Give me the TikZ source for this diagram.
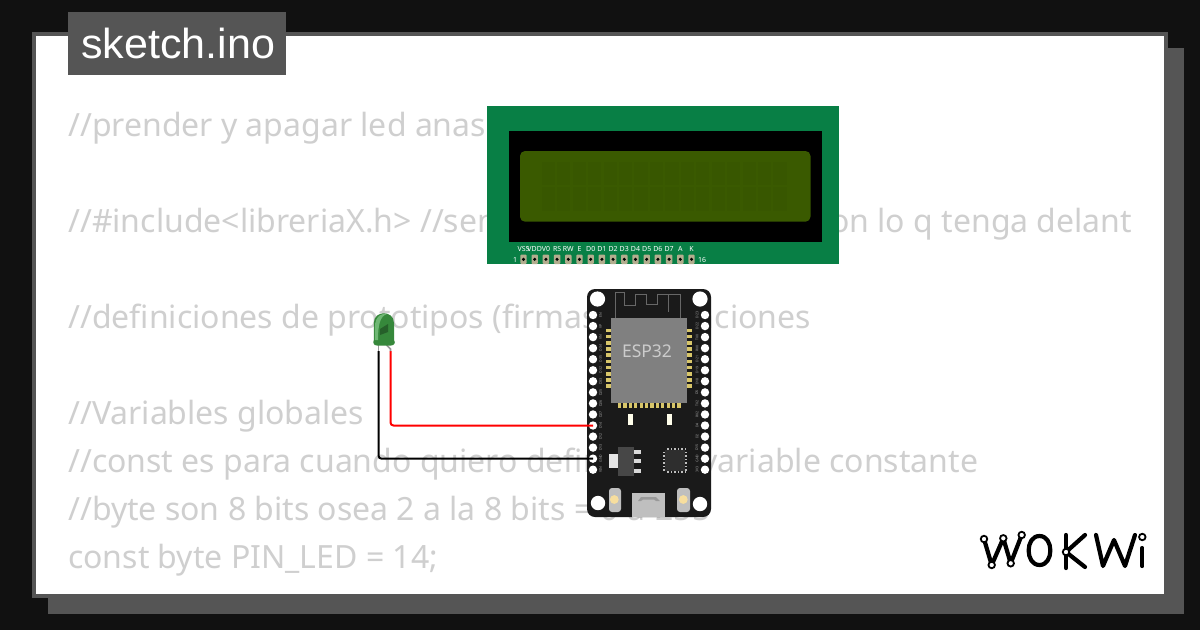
\documentclass[tikz,border=0pt]{standalone}
\usepackage{fontspec}
\setmainfont{Noto Sans}
\newfontfamily\tabfont[FakeStretch=1.025]{Liberation Sans}
\definecolor{bgdark}{HTML}{111111}
\definecolor{cardgray}{HTML}{555555}
\definecolor{codegray}{HTML}{CFCFCF}
\definecolor{lcdgreen}{HTML}{087F45}
\definecolor{lcdscreen}{HTML}{3A5A00}
\definecolor{lcdcell}{HTML}{385700}
\definecolor{pintan}{HTML}{B3AD8E}
\definecolor{boardblack}{HTML}{1A1A1A}
\definecolor{modgray}{HTML}{808080}
\definecolor{goldpin}{HTML}{D8C66A}
\definecolor{ledgreen}{HTML}{3FA046}
\definecolor{btncream}{HTML}{F7DE9E}
\tikzset{
  codeline/.style={anchor=base west,inner sep=0pt,text=codegray,font=\fontsize{32}{32}\selectfont},
  lcdlabel/.style={anchor=base,inner sep=0pt,text=white,font=\fontsize{7}{8}\selectfont},
  esplabel/.style={inner sep=0pt,text=white!65!black,rotate=90,font=\fontsize{3.5}{4}\selectfont},
  pad/.style={circle,fill=white,inner sep=0pt,minimum size=8.4pt},
  wire/.style={line width=2pt,rounded corners=3pt},
  logo/.style={line width=4.2pt,line cap=round,line join=round,black},
  logonode/.style={circle,draw=black,fill=white,line width=1.8pt,inner sep=0pt,minimum size=6.5pt}
}
\begin{document}
\begin{tikzpicture}[x=1pt,y=-1pt]
\useasboundingbox (0,0) rectangle (1200,630);
\fill[bgdark] (0,0) rectangle (1200,630);
\fill[cardgray] (48,48) rectangle (1184,614);
\fill[cardgray] (32,32) rectangle (1168,598);
\fill[white] (36,36) rectangle (1164,594);
\begin{scope}
\clip (68,90) rectangle (1132,590);
\node[codeline] (c1) at (68,136) {//prender y apagar led anas};
\node[codeline] (c2) at (68,232) {//\#include<libreriaX.h> //sentencia que remplaza\kern5pt{} con lo q tenga delante};
\node[codeline] (c3) at (68,328) {//definiciones de prototipos (firmas de\kern12pt{} funciones};
\node[codeline] (c4) at (68,424) {//Variables globales};
\node[codeline] (c5) at (68,472) {//const es para cuando quiero definir una\kern3pt{} variable constante};
\node[codeline] (c6) at (68,520) {//byte son 8 bits osea 2 a la 8 bits = 0 a\kern2pt{} 255};
\node[codeline] (c7) at (68,568) {const byte PIN\_LED = 14;};
\end{scope}
% tab
\fill[cardgray] (68,12) rectangle (286,75);
\node[anchor=base west,inner sep=0pt,text=white,font=\tabfont\fontsize{42}{42}\selectfont] (tab) at (81,58) {sketch.ino};
% LCD
\fill[lcdgreen] (487,106) rectangle (838.5,264);
\fill[black] (509,131) rectangle (822,241.7);
\fill[lcdscreen,rounded corners=5pt] (520,151) rectangle (810.5,221.7);
\foreach \c in {0,...,15}{
  \pgfmathsetmacro{\xx}{541.7+15.45*\c}
  \fill[lcdcell] (\xx,161.7) rectangle ++(13.2,23.2);
  \fill[lcdcell] (\xx,187) rectangle ++(13.2,23.6);
}
\foreach \lab [count=\i from 0] in {VSS,VDD,V0,RS,RW,E,D0,D1,D2,D3,D4,D5,D6,D7,A,K}{
  \pgfmathsetmacro{\xx}{523.5+11.2*\i}
  \fill[pintan,rounded corners=1pt] (\xx-3.2,254.5) rectangle (\xx+3.2,264);
  \fill[black] (\xx,259.3) circle (1.7);
  \node[lcdlabel] (lcd\i) at (\xx,251.7) {\lab};
}
\node[lcdlabel] (lcdone) at (515,262) {1};
\node[lcdlabel] (lcdsixteen) at (702,262) {16};
% ESP32 board
\fill[boardblack,rounded corners=8pt] (587,289) rectangle (711,517);
% antenna
\draw[modgray!80!black,line width=0.7pt] (615.5,318) -- (615.5,292.5) -- (624.5,292.5) -- (624.5,305) -- (635,305) -- (635,294) -- (646,294) -- (646,304) -- (657,304) -- (657,294) -- (668,294) -- (668,312) (668,294) -- (680,294) -- (680,318);
% gold pins
\foreach \k in {0,...,9}{
  \pgfmathsetmacro{\yy}{328.5+6.2*\k}
  \fill[goldpin] (606,\yy) rectangle (611,\yy+3.6);
  \fill[goldpin] (687,\yy) rectangle (691.5,\yy+3.6);
}
\foreach \k in {0,...,11}{
  \pgfmathsetmacro{\xx}{618+5.4*\k}
  \fill[goldpin] (\xx,403) rectangle (\xx+3.2,407.5);
}
\fill[modgray] (611,318) rectangle (687,403);
\node[inner sep=0pt,text=white!80!black,font=\fontsize{17.5}{17}\selectfont] (esp) at (647,351) {ESP32};
% big holes
\fill[white] (597.5,299) circle (7.6);
\fill[white] (700,299) circle (7.6);
\fill[white] (598,503) circle (7.2);
\fill[white] (700,504) circle (7.2);
% pads and labels
\foreach \lab [count=\k from 0] in {EN,VP,VN,D34,D35,D32,D33,D25,D26,D27,D14,D12,D13,GND,VIN}{
  \pgfmathsetmacro{\yy}{315+11.05*\k}
  \node[pad] (padL\k) at (593,\yy) {};
  \node[esplabel] (labL\k) at (600.5,\yy) {\lab};
}
\foreach \lab [count=\k from 0] in {D23,D22,TX0,RX0,D21,D19,D18,D5,TX2,RX2,D4,D2,D15,GND,3V3}{
  \pgfmathsetmacro{\yy}{315+11.05*\k}
  \node[pad] (padR\k) at (705,\yy) {};
  \node[esplabel] (labR\k) at (697,\yy) {\lab};
}
% LEDs on board
\fill[white!92!yellow] (627.7,414) rectangle (632.7,425);
\fill[white!92!yellow] (667,414) rectangle (672,425);
% regulator
\fill[white!90!black] (609,454) rectangle (618,468);
\fill[white!85!black] (634,449.5) rectangle (641,453.5);
\fill[white!85!black] (634,459) rectangle (641,463);
\fill[white!85!black] (634,469) rectangle (641,473);
\fill[black!72] (617.7,447) rectangle (634,476);
% QFN chip
\foreach \k in {0,...,5}{
  \pgfmathsetmacro{\pp}{3.5*\k}
  \fill[white!75!black] (667+\pp,448) rectangle ++(1.8,1.8);
  \fill[white!75!black] (667+\pp,471.3) rectangle ++(1.8,1.8);
  \fill[white!75!black] (663,451.5+\pp) rectangle ++(1.8,1.8);
  \fill[white!75!black] (685.2,451.5+\pp) rectangle ++(1.8,1.8);
}
\fill[black!82] (665,450) rectangle (685,471);
% buttons
\fill[white!75!black,rounded corners=3pt] (609,488) rectangle (621,512);
\fill[white!75!black,rounded corners=3pt] (677,488) rectangle (690,512);
\fill[btncream] (614.3,499.5) circle (4.4);
\fill[btncream] (683.3,499.5) circle (4.4);
% USB
\fill[white!75!black] (632,493) rectangle (665,517);
\fill[white!60!black] (638,501) -- (641,497) -- (656,497) -- (660,501) -- (656,501) -- (654,499.5) -- (643,499.5) -- (641,501) -- cycle;
% LED
\node[inner sep=0pt,minimum size=0pt] (led) at (384,330) {};
\coordinate (ledK) at (378.5,351);
\coordinate (ledA) at (390.5,351);
\draw[wire,black] (ledK) |- (padL13.center);
\draw[wire,red] (ledA) |- (padL10.center);
\draw[black!40,line width=1.6pt] (378.5,351) -- (378.5,345);
\draw[black!40,line width=1.6pt] (390.5,351) -- (390.5,349) -- (386.5,345);
\fill[ledgreen!85!black] (373.8,340) -- (373.8,323) .. controls (373.8,310) and (394,310) .. (394,323) -- (394,340) .. controls (396,343) and (394,345.5) .. (391,345.5) -- (377,345.5) .. controls (374,345.5) and (372.5,343) .. (373.8,340) -- cycle;
\fill[ledgreen!75!white] (374.8,328) .. controls (374.8,314) and (384,313) .. (387,314) .. controls (380,316) and (378,325) .. (378,340) -- (375,340) -- cycle;
\fill[ledgreen!60!black] (380,329) -- (388,324) -- (388,332) -- (380,335) -- cycle;
% WOKWI logo
\draw[logo] (984,539) -- (991.7,565) -- (1003.3,538.3) -- (1010.7,563.3) -- (1021.7,535);
\draw[logo] (1039.5,536) .. controls (1054,536) and (1054,565) .. (1039.5,565) .. controls (1025,565) and (1025,536) .. (1039.5,536) -- cycle;
\draw[logo] (1066,535) -- (1066,568);
\draw[logo] (1066,552) -- (1085,535);
\draw[logo] (1066,552) -- (1085,567);
\draw[logo] (1096,535) -- (1103,566) -- (1114,540) -- (1125,566) -- (1135,535);
\draw[logo] (1142.3,548) -- (1142.3,566);
\node[logonode] (n1) at (984,539) {};
\node[logonode] (n2) at (1003.3,538.3) {};
\node[logonode] (n3) at (1021.7,535) {};
\node[logonode] (n4) at (991.7,565) {};
\node[logonode] (n5) at (1010.7,563.3) {};
\node[logonode] (n6) at (1066,552) {};
\node[logonode] (n7) at (1142.3,537) {};
\end{tikzpicture}
\end{document}
